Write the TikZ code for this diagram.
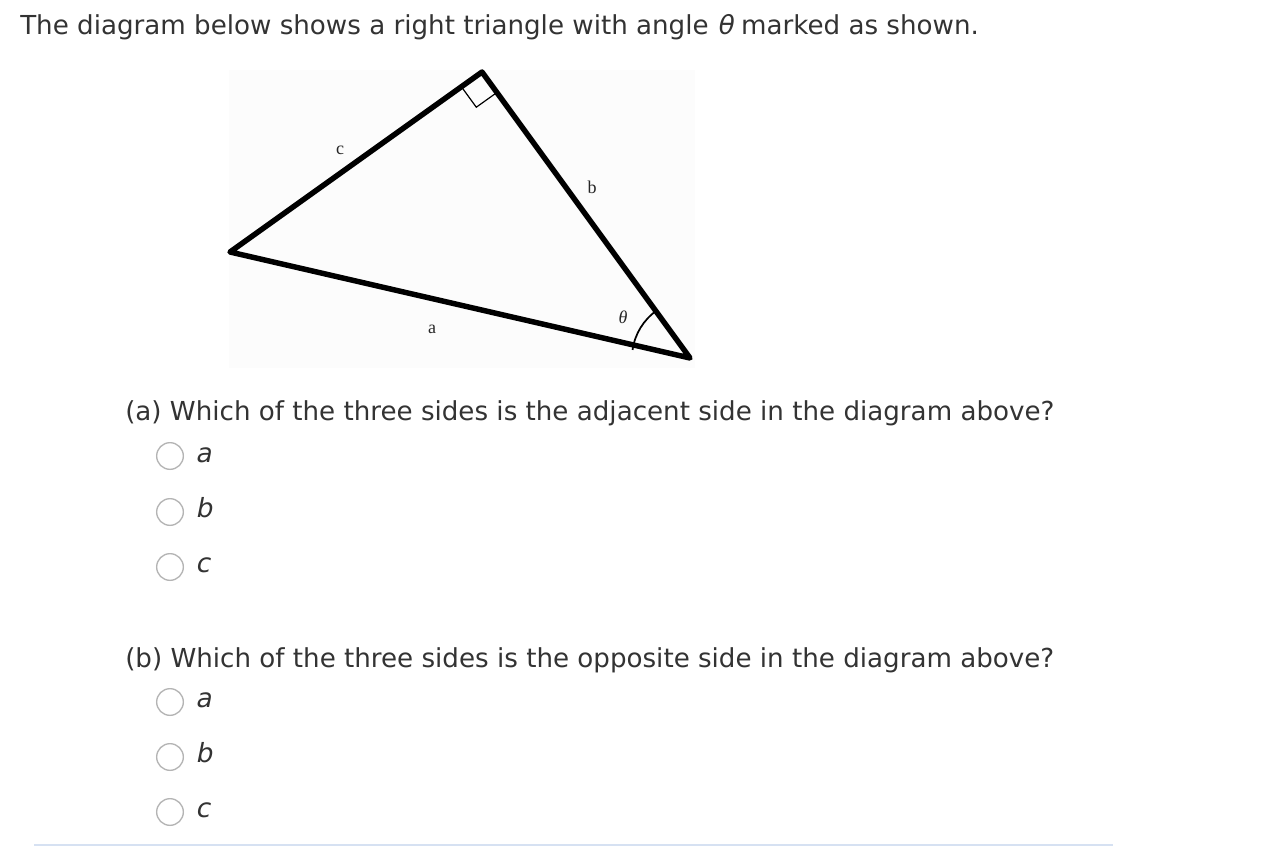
\documentclass[tikz,border=0pt]{standalone}
\usepackage{fontspec}
\usetikzlibrary{calc}
\setmainfont{DejaVu Sans}
\newfontfamily\obliquefont{DejaVu Sans}[FakeSlant=0.2]
\newfontfamily\trifont{Liberation Serif}
\definecolor{txt}{HTML}{333333}
\definecolor{radio}{HTML}{B4B4B4}
\definecolor{rule}{HTML}{D6E1F2}
\definecolor{imgbg}{HTML}{FCFCFC}
\tikzset{
  qtext/.style={anchor=base west, inner sep=0pt, text=txt, font=\fontsize{19.6pt}{24pt}\selectfont},
  opttext/.style={anchor=base west, inner sep=0pt, text=txt, font=\obliquefont\fontsize{19.8pt}{24pt}\selectfont},
  radiobtn/.style={circle, draw=radio, line width=1pt, fill=white, minimum size=20pt, inner sep=0pt},
  side/.style={line width=4.1pt, line cap=round, line join=round, draw=black},
  trilabel/.style={inner sep=0pt, text=black!85, font=\trifont\fontsize{13.5pt}{15pt}\selectfont}
}
\begin{document}
\begin{tikzpicture}[x=0.75pt,y=-0.75pt]
\useasboundingbox[fill=white] (0,0) rectangle (1278,846);
% title
\node[qtext] (title) at (20,34) {The diagram below shows a right triangle with angle {\obliquefont θ} marked as shown.};
% image background
\node[fill=imgbg, minimum width=466*0.75pt, minimum height=298*0.75pt, inner sep=0pt, anchor=north west] (img) at (229,70) {};
% triangle
\coordinate (T) at (482,72);
\coordinate (L) at (230,252);
\coordinate (R) at (690,358);
\draw[side] (T) -- (L) -- (R) -- cycle;
% right angle marker
\coordinate (m1) at ($(T)!19pt!(L)$);
\coordinate (m2) at ($(T)!19pt!(R)$);
\coordinate (mc) at ($(m1)+(m2)-(T)$);
\draw[line width=0.9pt] (m1) -- (mc) -- (m2);
% angle arc
\draw[line width=1.3pt] (R) ++(-125:58) arc[start angle=-125, end angle=-172, radius=58];
\node[trilabel] (lc) at (340,150) {c};
\node[trilabel] (lb) at (592,187) {b};
\node[trilabel] (la) at (432,329) {a};
\node[trilabel] (lt) at (623,317) {\itshape θ};
% question a
\node[qtext] (qa) at (125,420.7) {(a) Which of the three sides is the adjacent side in the diagram above?};
\node[radiobtn] (ra1) at (170,456) {};
\node[radiobtn] (ra2) at (170,512) {};
\node[radiobtn] (ra3) at (170,567) {};
\node[opttext] (oa1) at (195,462) {a};
\node[opttext] (oa2) at (195,517) {b};
\node[opttext] (oa3) at (195,572) {c};
% question b
\node[qtext] (qb) at (125,667) {(b) Which of the three sides is the opposite side in the diagram above?};
\node[radiobtn] (rb1) at (170,702) {};
\node[radiobtn] (rb2) at (170,757) {};
\node[radiobtn] (rb3) at (170,812) {};
\node[opttext] (ob1) at (195,707) {a};
\node[opttext] (ob2) at (195,762) {b};
\node[opttext] (ob3) at (195,817) {c};
% bottom rule
\coordinate (r1) at (34,845);
\coordinate (r2) at (1113,845);
\draw[rule, line width=1.5pt] (r1) -- (r2);
\end{tikzpicture}
\end{document}
